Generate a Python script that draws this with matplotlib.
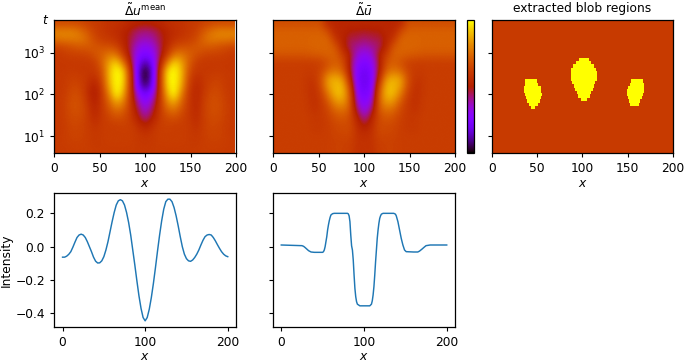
import numpy as np
import matplotlib
matplotlib.use("Agg")
import matplotlib.pyplot as plt
from matplotlib.ticker import NullLocator

# Heat-map values (colour-scale position 0..1); rows from lowest t to highest t
u_mean = [
 [.61,.61,.62,.62,.62,.61,.61,.61,.61,.61,.61,.61,.60,.61,.61,.61,.61,.61,.61,.61,.62,.62,.62,.61,.61],
 [.61,.62,.63,.63,.62,.60,.61,.62,.62,.62,.62,.60,.60,.60,.62,.62,.62,.62,.61,.60,.62,.63,.63,.62,.61],
 [.60,.62,.64,.64,.62,.60,.61,.62,.62,.62,.62,.60,.58,.60,.62,.62,.62,.62,.61,.59,.62,.64,.64,.62,.60],
 [.60,.62,.65,.64,.62,.58,.61,.62,.62,.63,.62,.57,.50,.57,.62,.63,.62,.62,.61,.57,.62,.65,.64,.62,.60],
 [.60,.63,.66,.66,.62,.55,.60,.64,.68,.66,.61,.50,.40,.50,.61,.66,.68,.64,.60,.55,.62,.66,.66,.63,.60],
 [.60,.63,.68,.67,.62,.52,.60,.68,.76,.72,.60,.45,.33,.45,.60,.73,.77,.68,.60,.54,.62,.67,.67,.63,.60],
 [.60,.63,.68,.67,.60,.50,.60,.73,.87,.80,.59,.38,.27,.38,.59,.81,.88,.73,.60,.53,.62,.67,.67,.63,.60],
 [.60,.62,.67,.66,.58,.47,.60,.80,1.0,.88,.59,.30,.20,.30,.59,.89,1.0,.80,.60,.53,.60,.66,.66,.62,.60],
 [.60,.61,.65,.64,.58,.50,.62,.87,1.0,.94,.60,.20,.06,.20,.60,.95,1.0,.87,.62,.54,.59,.64,.65,.61,.60],
 [.60,.61,.63,.62,.60,.56,.65,.90,1.0,.96,.60,.17,.00,.17,.60,.97,1.0,.90,.65,.56,.60,.62,.63,.61,.60],
 [.60,.60,.61,.60,.60,.60,.68,.90,1.0,.94,.58,.16,.01,.16,.58,.95,1.0,.90,.68,.60,.60,.60,.61,.60,.60],
 [.60,.60,.60,.60,.60,.62,.72,.86,.94,.78,.50,.22,.10,.22,.50,.79,.95,.86,.72,.62,.60,.60,.60,.60,.60],
 [.60,.62,.63,.63,.64,.68,.72,.78,.78,.62,.44,.28,.23,.28,.44,.62,.78,.78,.72,.68,.64,.63,.63,.62,.60],
 [.64,.66,.68,.70,.70,.70,.68,.68,.65,.55,.44,.33,.30,.33,.44,.55,.65,.68,.68,.70,.70,.70,.68,.66,.64],
 [.77,.78,.78,.78,.74,.66,.62,.60,.58,.52,.46,.39,.37,.39,.46,.52,.58,.60,.62,.66,.74,.78,.78,.78,.77],
 [.80,.80,.80,.76,.70,.63,.60,.58,.56,.52,.48,.43,.42,.43,.48,.52,.56,.58,.60,.63,.70,.76,.80,.80,.80],
 [.66,.66,.66,.65,.63,.61,.60,.58,.58,.56,.53,.52,.51,.52,.53,.56,.58,.58,.60,.61,.63,.65,.66,.66,.66],
]
u_bar = [
 [.62,.62,.62,.62,.62,.62,.62,.62,.63,.63,.62,.58,.58,.58,.62,.63,.63,.62,.62,.62,.62,.62,.62,.62,.62],
 [.62,.62,.62,.62,.62,.62,.62,.62,.63,.63,.63,.58,.58,.58,.63,.63,.63,.62,.62,.62,.62,.62,.62,.62,.62],
 [.62,.62,.62,.62,.62,.61,.61,.62,.64,.65,.65,.58,.55,.58,.65,.65,.64,.62,.61,.61,.62,.62,.62,.62,.62],
 [.62,.62,.62,.62,.62,.60,.60,.62,.65,.66,.66,.56,.47,.56,.66,.66,.65,.62,.60,.60,.62,.62,.62,.62,.62],
 [.62,.62,.62,.62,.62,.60,.60,.63,.68,.70,.66,.52,.38,.52,.66,.70,.68,.63,.60,.60,.62,.62,.62,.62,.62],
 [.62,.62,.62,.62,.61,.58,.60,.65,.74,.76,.70,.42,.30,.42,.70,.76,.74,.65,.60,.58,.61,.62,.62,.62,.62],
 [.62,.62,.62,.62,.61,.57,.60,.70,.83,.85,.72,.34,.26,.34,.72,.85,.83,.70,.60,.57,.61,.62,.62,.62,.62],
 [.62,.62,.62,.62,.60,.57,.62,.78,.90,.90,.72,.28,.22,.28,.72,.90,.90,.78,.62,.57,.60,.62,.62,.62,.62],
 [.62,.62,.62,.62,.60,.57,.66,.85,.90,.90,.66,.24,.20,.24,.66,.90,.90,.85,.66,.57,.60,.62,.62,.62,.62],
 [.62,.62,.62,.62,.60,.59,.67,.85,.88,.84,.56,.23,.19,.23,.56,.84,.88,.85,.67,.59,.60,.62,.62,.62,.62],
 [.62,.62,.62,.62,.61,.61,.64,.73,.77,.72,.50,.25,.20,.25,.50,.72,.77,.73,.64,.61,.61,.62,.62,.62,.62],
 [.62,.62,.62,.62,.62,.62,.63,.68,.72,.68,.48,.29,.25,.29,.48,.68,.72,.68,.63,.62,.62,.62,.62,.62,.62],
 [.69,.69,.69,.69,.69,.70,.71,.72,.72,.62,.50,.34,.30,.34,.50,.62,.72,.72,.71,.70,.69,.69,.69,.69,.69],
 [.72,.72,.72,.72,.72,.73,.73,.73,.70,.54,.43,.40,.37,.40,.43,.54,.70,.73,.73,.73,.72,.72,.72,.72,.72],
 [.72,.72,.72,.72,.72,.73,.73,.73,.60,.51,.46,.45,.43,.45,.46,.51,.60,.73,.73,.73,.72,.72,.72,.72,.72],
 [.72,.72,.72,.72,.72,.72,.72,.66,.53,.53,.49,.49,.48,.49,.49,.53,.53,.66,.72,.72,.72,.72,.72,.72,.72],
 [.67,.67,.67,.67,.67,.67,.67,.54,.53,.53,.53,.53,.53,.53,.53,.53,.53,.54,.67,.67,.67,.67,.67,.67,.67],
]

# Extracted blobs: first mask row (counted from the top) and the x-span of each successive row
centre_start = 23
centre_spans = [(94.7,106.8),(92.1,109.4),(88.8,112.3),(87.3,114.2),(87.3,114.9),(87.3,114.9),
                (87.3,114.9),(88.4,113.4),(89.5,112.3),(91.0,110.9),(92.8,109.4),(93.9,107.9),(97.6,104.2)]
left_start = 36
left_spans = [(35.7,49.0),(35.7,50.5),(35.0,52.7),(35.0,53.4),(35.7,55.2),(36.8,53.4),
              (37.9,51.9),(40.5,50.5),(41.6,46.8)]
right_start = 36
right_spans = [(153.2,165.7),(151.7,166.9),(149.2,167.2),(148.0,167.2),(148.0,166.1),
               (149.2,164.6),(151.0,162.8),(151.7,162.1)]
blob_background = 0.61
blob_value = 1.0

# Line profiles
y_mean = [-.063,-.063,-.057,-.046,-.03,-.003,.027,.055,.07,.075,.07,.055,.03,.0,-.03,-.063,-.087,-.098,-.097,-.085,
          -.06,-.02,.03,.09,.15,.205,.25,.275,.282,.275,.25,.205,.145,.07,-.02,-.11,-.205,-.295,-.37,-.425,
          -.445,-.425,-.375,-.305,-.22,-.125,-.025,.07,.155,.225,.27,.285,.285,.27,.235,.185,.125,.06,.0,-.045,
          -.072,-.085,-.088,-.08,-.065,-.045,-.02,.01,.038,.06,.07,.073,.07,.055,.035,.012,-.01,-.03,-.045,-.055,-.06]
x_mean = [i*2.5 for i in range(len(y_mean))]
x_bar = [0,25,27,29,31,33,36,40,50,51,52,53,54,55,56,57,58,59,60,62,64,70,80,81,82,83,84,85,86,87,88,89,90,91,92,95,100,
         107,109,110,111,112,113,114,115,116,117,118,119,120,121,123,125,130,136,138,139,141,143,145,147,149,151,160,
         165,167,170,173,175,180,200]
y_bar = [.01,.006,.002,-.006,-.015,-.024,-.032,-.034,-.034,-.03,-.02,.0,.03,.06,.1,.13,.155,.175,.19,.198,.2,.2,.2,.197,
         .185,.15,.07,.005,-.02,-.08,-.17,-.25,-.30,-.33,-.345,-.355,-.355,-.355,-.345,-.325,-.29,-.24,-.17,-.09,-.02,.05,
         .1,.14,.17,.185,.195,.2,.2,.2,.2,.195,.185,.15,.1,.05,.01,-.02,-.03,-.032,-.032,-.027,-.015,-.002,.006,.01,.01]

titles = [r"$\tilde{\Delta}u^{\mathrm{mean}}$", r"$\tilde{\Delta}\bar{u}$", "extracted blob regions"]
title_pads = [3, 3, 5.5]

plt.rcParams.update({"font.size": 8.8, "axes.linewidth": 0.9, "xtick.major.size": 3.2, "ytick.major.size": 3.2,
                     "xtick.major.width": 0.8, "ytick.major.width": 0.8, "mathtext.default": "it"})
W, H = 685, 362
fig = plt.figure(figsize=(W/100, H/100), dpi=100)

def box(x0, x1, y0, y1):
    return fig.add_axes([x0/W, 1-y1/H, (x1-x0)/W, (y1-y0)/H])

# Blob mask
mask = np.full((80, 200), blob_background)
for start, spans in ((centre_start, centre_spans), (left_start, left_spans), (right_start, right_spans)):
    for k, (a, b) in enumerate(spans):
        mask[start+2*k:start+2*k+2, int(round(a)):int(round(b))] = blob_value
mask = mask[::-1]

top_x = [(54.3, 236), (273, 455), (491.7, 673)]
images = [(np.array(u_mean), "bicubic"), (np.array(u_bar), "bicubic"), (mask, "nearest")]
for i, ((x0, x1), (data, interp)) in enumerate(zip(top_x, images)):
    ax = box(x0, x1, 20, 153)
    im = ax.imshow(data, cmap="gnuplot", vmin=0, vmax=1, origin="lower", aspect="auto", extent=(0, 200, 0, 1),
                   transform=ax.get_xaxis_transform(), interpolation=interp, interpolation_stage="data")
    ax.set_yscale("log")
    ax.set_xlim(0, 200)
    ax.set_ylim(4.0, 6000)
    ax.set_yticks([10, 100, 1000])
    ax.yaxis.set_minor_locator(NullLocator())
    ax.set_xticks([0, 50, 100, 150, 200])
    ax.set_xlabel("$x$", labelpad=1.5)
    ax.set_title(titles[i], fontsize=8.8, pad=title_pads[i])
    if i == 0:
        ax.set_ylabel("$t$", rotation=0, labelpad=0)
        ax.yaxis.set_label_coords(-0.05, 1.0)
        ax.yaxis.label.set_verticalalignment("center")
    else:
        ax.tick_params(labelleft=False)
    if i == 1:
        cax = box(467, 474, 20, 153)
        cb = fig.colorbar(im, cax=cax)
        cb.set_ticks([])
        cb.outline.set_linewidth(0.9)

# Bottom profiles
for i, (x0, x1, xs, ys) in enumerate(((54.3, 236, x_mean, y_mean), (273, 455, x_bar, y_bar))):
    ax = box(x0, x1, 193, 327)
    ax.plot(xs, ys, color="C0", lw=1.05)
    ax.set_xlim(-10, 210)
    ax.set_ylim(-0.482, 0.322)
    ax.set_xticks([0, 100, 200])
    ax.set_yticks([-0.4, -0.2, 0.0, 0.2])
    ax.set_xlabel("$x$", labelpad=0.5)
    if i == 0:
        ax.set_ylabel("Intensity", labelpad=2)
    else:
        ax.tick_params(labelleft=False)

fig.savefig("out.png", dpi=100)
